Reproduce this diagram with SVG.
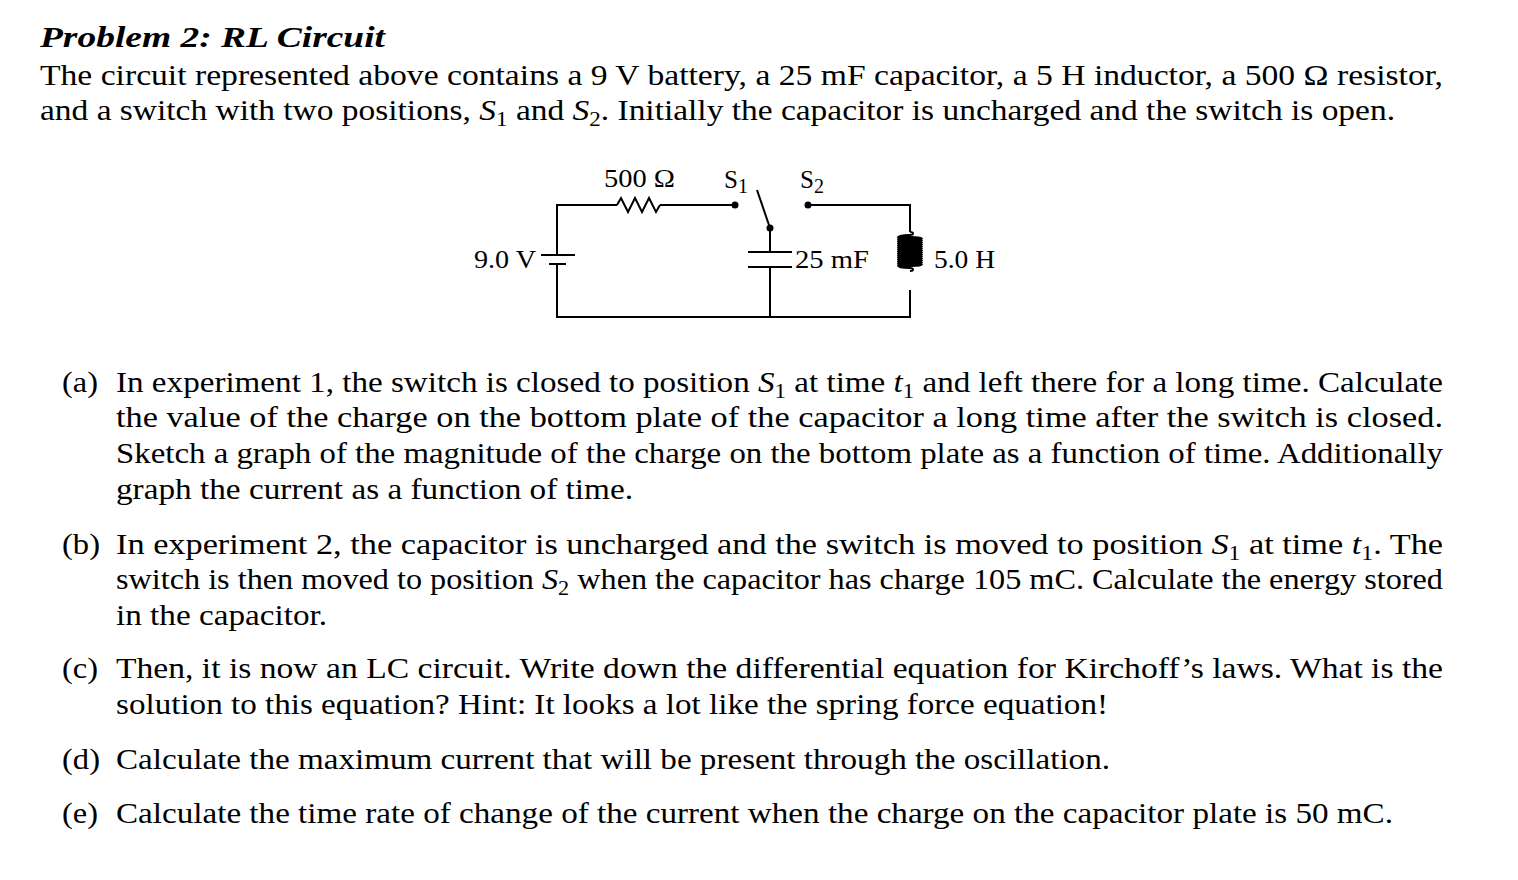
<svg xmlns="http://www.w3.org/2000/svg" width="1518" height="880" viewBox="0 0 1518 880">
<style>
text{font-family:"Liberation Serif","DejaVu Serif",serif;fill:#000}
.t{font-size:29px}
.c{font-size:25px}
.w{fill:none;stroke:#000;stroke-width:2}
.i{font-style:italic}
.s{font-size:20px}
</style>
<rect width="1518" height="880" fill="#fff"/>
<text class="t" x="40" y="47" font-weight="bold" font-style="italic" textLength="345" lengthAdjust="spacingAndGlyphs">Problem 2: RL Circuit</text>
<text class="t" x="40" y="85" textLength="1403" lengthAdjust="spacingAndGlyphs">The circuit represented above contains a 9 V battery, a 25 mF capacitor, a 5 H inductor, a 500 Ω resistor,</text>
<text class="t" x="40" y="120" textLength="1355" lengthAdjust="spacingAndGlyphs">and a switch with two positions, <tspan class="i">S</tspan><tspan class="s" dy="6">1</tspan><tspan dy="-6"> and </tspan><tspan class="i">S</tspan><tspan class="s" dy="6">2</tspan><tspan dy="-6">. Initially the capacitor is uncharged and the switch is open.</tspan></text>

<g id="circuit">
<g id="wires" class="w">
<path d="M557 255V205H617M660 205H735"/>
<path d="M557 264V317H910V290"/>
<path d="M808 205H910V232"/>
<path d="M770 228V252M770 267V317"/>
<path d="M770 228L757 190"/>
</g>
<g id="resistor"><path class="w" d="M617 205l4 -7l7 14l7 -14l7 14l7 -14l7 14l4 -7"/></g>
<g id="battery"><path class="w" d="M541 255H575M549 264H566"/></g>
<g id="capacitor"><path class="w" d="M748 252H792M748 267H792"/></g>
<g id="inductor"><path class="w" d="M910 232c4 0 4 3 0 3c-16 0-16 5 0 5c16 0 16-3 0-3c-16 0-16 5 0 5c16 0 16-3 0-3c-16 0-16 5 0 5c16 0 16-3 0-3c-16 0-16 5 0 5c16 0 16-3 0-3c-16 0-16 5 0 5c16 0 16-3 0-3c-16 0-16 5 0 5c16 0 16-3 0-3c-16 0-16 5 0 5c16 0 16-3 0-3c-16 0-16 5 0 5c16 0 16-3 0-3c-16 0-16 5 0 5c16 0 16-3 0-3c-16 0-16 5 0 5c16 0 16-3 0-3c-16 0-16 5 0 5c16 0 16-3 0-3c-16 0-16 5 0 5c16 0 16-3 0-3c-16 0-16 5 0 5c16 0 16-3 0-3c-16 0-16 5 0 5c16 0 16-3 0-3c-16 0-16 5 0 5c4 0 4 3 0 3"/></g>
<g id="switch"><circle cx="735" cy="205" r="3.5"/><circle cx="808" cy="205" r="3.5"/><circle cx="770" cy="228" r="3.5"/></g>
<text class="c" x="604" y="187" textLength="71" lengthAdjust="spacingAndGlyphs">500 Ω</text>
<text class="c" x="724" y="188">S<tspan class="s" dy="5">1</tspan></text>
<text class="c" x="800" y="188">S<tspan class="s" dy="5">2</tspan></text>
<text class="c" x="474" y="268" textLength="62" lengthAdjust="spacingAndGlyphs">9.0 V</text>
<text class="c" x="795" y="268" textLength="74" lengthAdjust="spacingAndGlyphs">25 mF</text>
<text class="c" x="934" y="268" textLength="61" lengthAdjust="spacingAndGlyphs">5.0 H</text>
</g>

<text class="t" x="62" y="392" textLength="36" lengthAdjust="spacingAndGlyphs">(a)</text>
<text class="t" x="116" y="392" textLength="1327" lengthAdjust="spacingAndGlyphs">In experiment 1, the switch is closed to position <tspan class="i">S</tspan><tspan class="s" dy="6">1</tspan><tspan dy="-6"> at time </tspan><tspan class="i">t</tspan><tspan class="s" dy="6">1</tspan><tspan dy="-6"> and left there for a long time. Calculate</tspan></text>
<text class="t" x="116" y="427" textLength="1327" lengthAdjust="spacingAndGlyphs">the value of the charge on the bottom plate of the capacitor a long time after the switch is closed.</text>
<text class="t" x="116" y="463" textLength="1327" lengthAdjust="spacingAndGlyphs">Sketch a graph of the magnitude of the charge on the bottom plate as a function of time. Additionally</text>
<text class="t" x="116" y="499" textLength="517" lengthAdjust="spacingAndGlyphs">graph the current as a function of time.</text>

<text class="t" x="62" y="554" textLength="38" lengthAdjust="spacingAndGlyphs">(b)</text>
<text class="t" x="116" y="554" textLength="1327" lengthAdjust="spacingAndGlyphs">In experiment 2, the capacitor is uncharged and the switch is moved to position <tspan class="i">S</tspan><tspan class="s" dy="6">1</tspan><tspan dy="-6"> at time </tspan><tspan class="i">t</tspan><tspan class="s" dy="6">1</tspan><tspan dy="-6">. The</tspan></text>
<text class="t" x="116" y="589" textLength="1327" lengthAdjust="spacingAndGlyphs">switch is then moved to position <tspan class="i">S</tspan><tspan class="s" dy="6">2</tspan><tspan dy="-6"> when the capacitor has charge 105 mC. Calculate the energy stored</tspan></text>
<text class="t" x="116" y="625" textLength="211" lengthAdjust="spacingAndGlyphs">in the capacitor.</text>

<text class="t" x="62" y="678" textLength="36" lengthAdjust="spacingAndGlyphs">(c)</text>
<text class="t" x="116" y="678" textLength="1327" lengthAdjust="spacingAndGlyphs">Then, it is now an LC circuit. Write down the differential equation for Kirchoff’s laws. What is the</text>
<text class="t" x="116" y="714" textLength="992" lengthAdjust="spacingAndGlyphs">solution to this equation? Hint: It looks a lot like the spring force equation!</text>

<text class="t" x="62" y="769" textLength="38" lengthAdjust="spacingAndGlyphs">(d)</text>
<text class="t" x="116" y="769" textLength="994" lengthAdjust="spacingAndGlyphs">Calculate the maximum current that will be present through the oscillation.</text>

<text class="t" x="62" y="823" textLength="36" lengthAdjust="spacingAndGlyphs">(e)</text>
<text class="t" x="116" y="823" textLength="1277" lengthAdjust="spacingAndGlyphs">Calculate the time rate of change of the current when the charge on the capacitor plate is 50 mC.</text>
</svg>
